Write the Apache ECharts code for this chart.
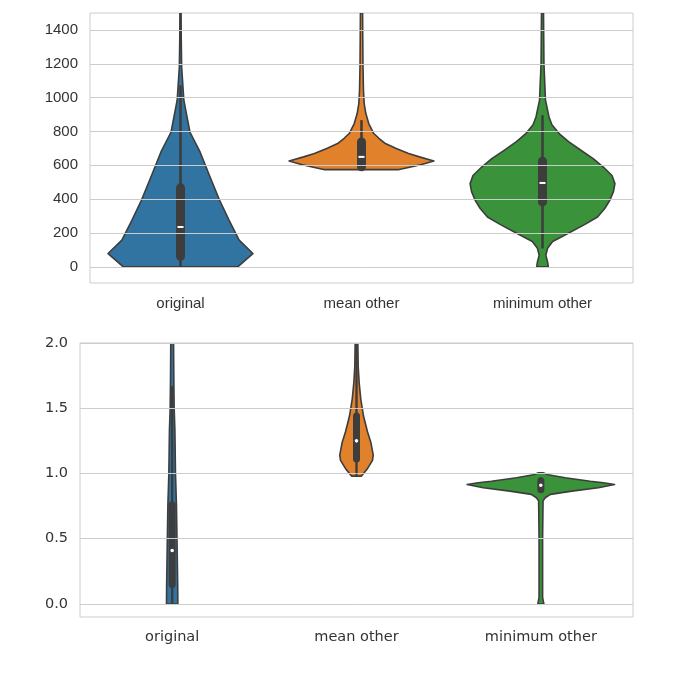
<!DOCTYPE html>
<html>
<head>
<meta charset="utf-8">
<script src="https://cdn.jsdelivr.net/npm/echarts@6/dist/echarts.min.js"></script>
<style>
html,body{margin:0;padding:0;background:#fff;}
#c{width:675px;height:686px;}
</style>
</head>
<body>
<div id="c"></div>
<script>
// ---------- data ----------
const categories = ['original', 'mean other', 'minimum other'];

// Top panel: violin profiles (value, relative half-width 0..1)
const topOriginalY = [0, 79, 158, 276, 394, 540, 679, 797, 985, 1181, 1350, 1500];
const topOriginalW = [0.79, 1.0, 0.81, 0.67, 0.54, 0.40, 0.27, 0.13, 0.046, 0.016, 0.01, 0.008];
const topMeanY = [575, 587, 605, 626, 650, 670, 700, 729, 760, 788, 847, 906, 965, 1044, 1200, 1500];
const topMeanW = [0.52, 0.65, 0.83, 1.0, 0.8, 0.65, 0.48, 0.33, 0.24, 0.17, 0.1, 0.06, 0.037, 0.027, 0.02, 0.015];
const topMinY = [0, 30, 69, 110, 150, 197, 250, 295, 345, 394, 445, 492, 540, 590, 640, 689, 740, 788, 840, 886, 985, 1200, 1500];
const topMinW = [0.08, 0.07, 0.046, 0.07, 0.14, 0.35, 0.58, 0.76, 0.86, 0.93, 0.98, 1.0, 0.96, 0.84, 0.70, 0.53, 0.36, 0.23, 0.13, 0.09, 0.041, 0.02, 0.014];
// Top panel box stats: [whiskerLow, q1, median, q3, whiskerHigh]
const topOriginalBox = [0, 63, 236, 467, 1073];
const topMeanBox = [575, 591, 650, 738, 867];
const topMinBox = [109, 384, 496, 624, 896];

// Bottom panel
const botOriginalY = [0, 0.15, 0.4, 0.76, 1.0, 1.33, 1.5, 1.75, 2.0];
const botOriginalW = [0.077, 0.075, 0.068, 0.058, 0.045, 0.037, 0.027, 0.022, 0.019];
const botMeanY = [0.98, 1.03, 1.10, 1.14, 1.24, 1.32, 1.44, 1.57, 1.69, 1.82, 2.0];
const botMeanW = [0.068, 0.14, 0.217, 0.227, 0.194, 0.149, 0.095, 0.058, 0.037, 0.023, 0.018];
const botMinY = [0, 0.02, 0.05, 0.5, 0.79, 0.814, 0.84, 0.865, 0.89, 0.916, 0.929, 0.94, 0.967, 0.99, 1.005];
const botMinW = [0.041, 0.034, 0.024, 0.024, 0.03, 0.06, 0.13, 0.42, 0.78, 1.0, 0.85, 0.67, 0.33, 0.1, 0.03];
const botOriginalBox = [0, 0.15, 0.41, 0.76, 1.67];
const botMeanBox = [0.98, 1.11, 1.25, 1.44, 2.0];
const botMinBox = [0.853, 0.875, 0.91, 0.945, 0.97];

const topTicks = [0, 200, 400, 600, 800, 1000, 1200, 1400];
const botTicks = [0.0, 0.5, 1.0, 1.5, 2.0];

// ---------- style ----------
const colors = ['#3274A1', '#E1812C', '#3A923A'];
const dark = '#3d3d3d';
const gridCol = '#cccccc';

function makeRender(profiles, boxes, opt) {
  return function (params, api) {
    const i = api.value(0);
    const p = profiles[i];
    const b = boxes[i];
    const bw = api.size([1, 0])[0];
    const cx = api.coord([i, 0])[0];
    const maxHalf = bw * 0.4;
    const right = [], left = [];
    for (let k = 0; k < p[0].length; k++) {
      const yy = api.coord([i, p[0][k]])[1];
      const h = p[1][k] * maxHalf;
      right.push([cx + h, yy]);
      left.push([cx - h, yy]);
    }
    const pts = right.concat(left.reverse());
    const y = v => api.coord([i, v])[1];
    const children = [
      { type: 'polygon', shape: { points: pts }, style: { fill: colors[i], stroke: dark, lineWidth: 1.6, lineJoin: 'round' } },
      { type: 'line', shape: { x1: cx, y1: y(b[0]), x2: cx, y2: y(b[4]) }, style: { stroke: dark, lineWidth: opt.whisker } },
      { type: 'rect', shape: { x: cx - opt.boxW / 2, y: y(b[3]) - opt.boxW / 2, width: opt.boxW, height: y(b[1]) - y(b[3]) + opt.boxW, r: opt.boxW / 2 }, style: { fill: dark } }
    ];
    if (opt.medianDash) {
      children.push({ type: 'rect', shape: { x: cx - 3, y: y(b[2]) - 1, width: 6, height: 2 }, style: { fill: '#ffffff' } });
    } else {
      children.push({ type: 'circle', shape: { cx: cx, cy: y(b[2]), r: 1.8 }, style: { fill: '#ffffff' } });
    }
    return { type: 'group', children: children };
  };
}

const chart = echarts.init(document.getElementById('c'), null, { renderer: 'canvas' });

const axisLabelTop = { color: '#333', fontFamily: 'Liberation Sans', fontSize: 15 };
const axisLabelBot = { color: '#333', fontFamily: 'DejaVu Sans', fontSize: 14.5 };

chart.setOption({
  animation: false,
  backgroundColor: '#ffffff',
  grid: [
    { left: 90, right: 42, top: 13, height: 270, show: true, borderColor: gridCol, borderWidth: 1, backgroundColor: 'transparent' },
    { left: 80, right: 42, top: 343, height: 274, show: true, borderColor: gridCol, borderWidth: 1, backgroundColor: 'transparent' }
  ],
  xAxis: [
    { gridIndex: 0, type: 'category', data: categories, axisLine: { show: false }, axisTick: { show: false }, axisLabel: Object.assign({ margin: 13 }, axisLabelTop) },
    { gridIndex: 1, type: 'category', data: categories, axisLine: { show: false }, axisTick: { show: false }, axisLabel: Object.assign({ margin: 13 }, axisLabelBot) }
  ],
  yAxis: [
    { gridIndex: 0, type: 'value', min: -95, max: 1500,
      axisLine: { show: false }, axisTick: { show: false },
      axisLabel: Object.assign({ margin: 12, customValues: topTicks, formatter: v => String(Math.round(v)) }, axisLabelTop),
      splitLine: { show: false } },
    { gridIndex: 1, type: 'value', min: -0.1, max: 2.0,
      axisLine: { show: false }, axisTick: { show: false },
      axisLabel: Object.assign({ margin: 12, customValues: botTicks, formatter: v => v.toFixed(1) }, axisLabelBot),
      splitLine: { show: false } }
  ],
  series: [
    { type: 'line', xAxisIndex: 0, yAxisIndex: 0, data: [], silent: true,
      markLine: { symbol: 'none', silent: true, label: { show: false }, lineStyle: { color: gridCol, width: 1, type: 'solid' },
        data: topTicks.map(v => ({ yAxis: v })) } },
    { type: 'line', xAxisIndex: 1, yAxisIndex: 1, data: [], silent: true,
      markLine: { symbol: 'none', silent: true, label: { show: false }, lineStyle: { color: gridCol, width: 1, type: 'solid' },
        data: botTicks.map(v => ({ yAxis: v })) } },
    { type: 'custom', xAxisIndex: 0, yAxisIndex: 0, clip: true,
      renderItem: makeRender(
        [[topOriginalY, topOriginalW], [topMeanY, topMeanW], [topMinY, topMinW]],
        [topOriginalBox, topMeanBox, topMinBox],
        { whisker: 2.6, boxW: 9, medianDash: true }),
      data: [[0], [1], [2]] },
    { type: 'custom', xAxisIndex: 1, yAxisIndex: 1, clip: true,
      renderItem: makeRender(
        [[botOriginalY, botOriginalW], [botMeanY, botMeanW], [botMinY, botMinW]],
        [botOriginalBox, botMeanBox, botMinBox],
        { whisker: 2.4, boxW: 7, medianDash: false }),
      data: [[0], [1], [2]] }
  ]
});
</script>
</body>
</html>
